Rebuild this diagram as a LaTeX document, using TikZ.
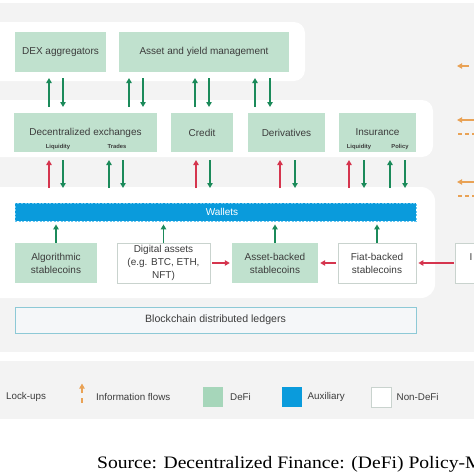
\documentclass[tikz,border=0pt]{standalone}
\usepackage{fontspec}
\setmainfont{Liberation Sans}
\newfontfamily\srcfont{Liberation Serif}
\usetikzlibrary{arrows.meta,calc}
\definecolor{bggray}{HTML}{F3F3F3}
\definecolor{defi}{HTML}{C0E1CE}
\definecolor{defileg}{HTML}{A6D6BA}
\definecolor{aux}{HTML}{0A9BDC}
\definecolor{auxb}{HTML}{6CC8F0}
\definecolor{gline}{HTML}{1B8A5A}
\definecolor{rline}{HTML}{D5354E}
\definecolor{oline}{HTML}{E9A255}
\definecolor{txt}{HTML}{3C3C3C}
\definecolor{nbord}{HTML}{C9D3CE}
\definecolor{ledgb}{HTML}{8DC9D6}
\definecolor{ledgf}{HTML}{F5F7F9}
\begin{document}
\begin{tikzpicture}[x=1pt,y=-1pt,
  lbl/.style={text=txt, font=\fontsize{10}{13}\selectfont, align=center, inner sep=0pt},
  defibox/.style={lbl, fill=defi, draw=none},
  nonbox/.style={lbl, fill=white, draw=nbord, line width=0.8pt},
  sublbl/.style={text=txt, font=\bfseries\fontsize{5.8}{7}\selectfont, inner sep=0pt},
  flow/.style={line width=1.4pt, -{Triangle[width=5.4pt,length=5pt]}},
  gflow/.style={flow, draw=gline, fill=gline},
  rflow/.style={flow, draw=rline, fill=rline},
  oflow/.style={line width=1.3pt, draw=oline, -{Triangle[width=5.2pt,length=5pt]}},
  odash/.style={line width=1.3pt, draw=oline, dash pattern=on 4pt off 3pt},
  legsq/.style={minimum width=20pt, minimum height=20pt, inner sep=0pt},
  legtext/.style={text=txt, font=\fontsize{9.8}{12}\selectfont, inner sep=0pt, anchor=west}]
\useasboundingbox (0,0) rectangle (474,474);
\clip (0,0) rectangle (474,474);
% backgrounds
\fill[white] (0,0) rectangle (474,474);
\fill[bggray] (0,3) rectangle (474,352);
\fill[bggray] (0,361) rectangle (474,419);
\fill[white, rounded corners=11pt] (-15,22) rectangle (305,81);
\fill[white, rounded corners=11pt] (-15,100) rectangle (433,157);
\fill[white, rounded corners=14pt] (-15,187) rectangle (435,298);
% row 1
\node[defibox, minimum width=91pt, minimum height=40pt] (dexagg) at (60.5,52) {DEX aggregators};
\node[defibox, minimum width=170pt, minimum height=40pt] (assety) at (204,52) {Asset and yield management};
% row 2
\node[defibox, minimum width=143pt, minimum height=39pt] (dex) at (85.5,132.5) {Decentralized exchanges};
\node[defibox, minimum width=62pt, minimum height=39pt] (credit) at (202,132.5) {Credit};
\node[defibox, minimum width=77pt, minimum height=39pt] (deriv) at (286.5,132.5) {Derivatives};
\node[defibox, minimum width=77pt, minimum height=39pt] (insur) at (377.5,132.5) {Insurance};
\node[sublbl] (liq1) at (58,146.5) {Liquidity};
\node[sublbl] (trades) at (117,146.5) {Trades};
\node[sublbl] (liq2) at (359,146.5) {Liquidity};
\node[sublbl] (policy) at (400,146.5) {Policy};
% arrows row1 <-> row2
\foreach \i/\u/\d in {1/49/63, 2/129/143, 3/195/209, 4/255/270} {
  \coordinate (ua\i) at (\u,107); \coordinate (ub\i) at (\u,78);
  \coordinate (da\i) at (\d,78);  \coordinate (db\i) at (\d,107);
  \draw[gflow] (ua\i) -- (ub\i);
  \draw[gflow] (da\i) -- (db\i);
}
% arrows row2 <-> wallets
\foreach \i/\u/\c/\d in {1/49/rflow/63, 2/109/gflow/123, 3/196/rflow/210, 4/280/rflow/295, 5/349/rflow/364, 6/390/gflow/405} {
  \coordinate (wa\i) at (\u,188); \coordinate (wb\i) at (\u,160);
  \coordinate (wc\i) at (\d,160); \coordinate (wd\i) at (\d,188);
  \draw[\c] (wa\i) -- (wb\i);
  \draw[gflow] (wc\i) -- (wd\i);
}
% wallets
\node[fill=aux, draw=auxb, line width=0.8pt, dash pattern=on 2pt off 1.5pt,
      minimum width=401pt, minimum height=18pt, inner sep=0pt,
      text=white, font=\fontsize{10}{12}\selectfont] (wallets) at (215.5,212) {\hspace*{13pt}Wallets};
% stablecoin row
\node[defibox, minimum width=82pt, minimum height=40pt] (algo) at (56,263) {Algorithmic\\stablecoins};
\node[nonbox, minimum width=93pt, minimum height=40pt] (digital) at (163.5,263) {Digital assets\\(e.g. BTC, ETH,\\NFT)};
\node[defibox, minimum width=86pt, minimum height=40pt] (asset) at (275,263) {Asset-backed\\stablecoins};
\node[nonbox, minimum width=78pt, minimum height=40pt] (fiat) at (377,263) {Fiat-backed\\stablecoins};
\node[nonbox, minimum width=80pt, minimum height=40pt] (rbox) at (495,263) {};
\node[lbl, anchor=west] (rtext) at (469.5,257) {I};
\draw[gflow, shorten >=3pt] (algo.north) -- (algo.north |- wallets.south);
\draw[gflow, shorten >=3pt] (digital.north) -- (digital.north |- wallets.south);
\draw[gflow, shorten >=3pt] (asset.north) -- (asset.north |- wallets.south);
\draw[gflow, shorten >=3pt] (fiat.north) -- (fiat.north |- wallets.south);
\draw[rflow, shorten <=2pt, shorten >=2pt] (digital.east) -- (asset.west);
\draw[rflow, shorten <=2pt, shorten >=2pt] (fiat.west) -- (asset.east);
\draw[rflow, shorten <=1pt, shorten >=2pt] (rbox.west) -- (fiat.east);
% blockchain
\node[lbl, fill=ledgf, draw=ledgb, line width=1pt, minimum width=401pt, minimum height=26pt,
      font=\fontsize{10.6}{13}\selectfont] (ledger) at (215.5,320) {Blockchain distributed ledgers};
% right-hand information flows
\foreach \i/\y/\s in {1/66/469, 2/120/476, 3/182/476} {
  \coordinate (oa\i) at (\s,\y); \coordinate (ob\i) at (457,\y);
  \draw[oflow] (oa\i) -- (ob\i);
}
\foreach \i/\y in {1/134, 2/196} {
  \coordinate (pa\i) at (458,\y); \coordinate (pb\i) at (480,\y);
  \draw[odash] (pa\i) -- (pb\i);
}
% legend
\node[legtext] (leglock) at (6,397) {Lock-ups};
\coordinate (ia) at (82,393); \coordinate (ib) at (82,383.5);
\draw[oflow] (ia) -- (ib);
\coordinate (ic) at (82,398); \coordinate (id) at (82,403);
\draw[line width=1.3pt, draw=oline] (ic) -- (id);
\node[legtext] (leginfo) at (96,397) {Information flows};
\node[legsq, fill=defileg] (sqdefi) at (213,397) {};
\node[legtext] (legdefi) at (230,397) {DeFi};
\node[legsq, fill=aux] (sqaux) at (291.5,397) {};
\node[legtext] (legaux) at (307.5,397) {Auxiliary};
\node[legsq, fill=white, draw=nbord, line width=0.8pt] (sqnon) at (381,397) {};
\node[legtext] (legnon) at (396.5,397) {Non-DeFi};
% source
\node[anchor=base west, inner sep=0pt] (src) at (97,468)
  {\scalebox{1.12}[1]{\srcfont\fontsize{17.5}{20}\selectfont Source: Decentralized Finance: (DeFi) Policy-M}};
\end{tikzpicture}
\end{document}
